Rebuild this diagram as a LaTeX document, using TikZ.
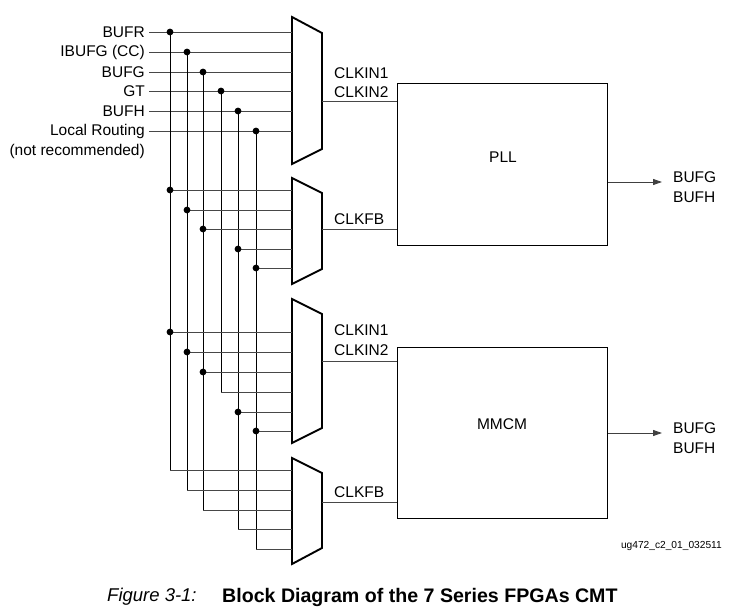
\documentclass[tikz,border=0pt]{standalone}
\usepackage{fontspec}
\setmainfont{Liberation Sans}
\usetikzlibrary{arrows.meta}
\begin{document}
\begin{tikzpicture}[x=1pt,y=-1pt,
  vline/.style={line width=1pt, black},
  hline/.style={line width=0.95pt, black!72},
  muxshape/.style={draw, line width=1.9pt, black, line join=miter},
  blockbox/.style={draw, line width=1.3pt, black, anchor=north west, inner sep=0pt},
  lbl/.style={font=\fontsize{15.5}{18}\selectfont, inner sep=0pt},
  sig/.style={lbl, anchor=west},
  src/.style={lbl, anchor=east},
  jdot/.style={circle, fill=black, inner sep=0pt, minimum size=6.8pt},
  outarrow/.style={line width=0.9pt, black!75, -{Triangle[length=9pt,width=6pt]}}]

\useasboundingbox (0,0) rectangle (729,616);

% ---------- source labels ----------
\node[src] (sBUFR)  at (145,32)  {BUFR};
\node[src] (sIBUFG) at (145,52)  {IBUFG (CC)};
\node[src] (sBUFG)  at (145,72)  {BUFG};
\node[src] (sGT)    at (145,91)  {GT};
\node[src] (sBUFH)  at (145,111) {BUFH};
\node[src] (sLOC)   at (145,131) {Local Routing};
\node[src] (sNOT)   at (145,151) {(not recommended)};

% ---------- muxes ----------
\draw[muxshape] (292,17)  coordinate (m1a) -- (322,33)  -- (322,149) -- (292,164) -- cycle;
\draw[muxshape] (292,178) coordinate (m2a) -- (322,193) -- (322,269) -- (292,284) -- cycle;
\draw[muxshape] (292,299) coordinate (m3a) -- (322,314) -- (322,428) -- (292,443) -- cycle;
\draw[muxshape] (292,458) coordinate (m4a) -- (322,473) -- (322,548) -- (292,564) -- cycle;

% ---------- blocks ----------
\node[blockbox, minimum width=210pt, minimum height=162pt] (pll)  at (397,83)  {};
\node[blockbox, minimum width=210pt, minimum height=171pt] (mmcm) at (397,347) {};
\node[lbl] (pllt)  at (503,157) {PLL};
\node[lbl] (mmcmt) at (502,424) {MMCM};

% ---------- top mux inputs from sources ----------
\foreach \s/\y in {sBUFR/32, sIBUFG/52, sBUFG/72, sGT/91, sBUFH/111, sLOC/131}{
  \draw[hline] ([xshift=4pt]\s.east) -- (292,\y);
}

% ---------- vertical distribution lines ----------
\draw[vline] (170,32)  coordinate (v1t) -- (170,470) coordinate (v1b);
\draw[vline] (187,52)  coordinate (v2t) -- (187,490) coordinate (v2b);
\draw[vline] (203,72)  coordinate (v3t) -- (203,510) coordinate (v3b);
\draw[vline] (221,91)  coordinate (v4t) -- (221,392) coordinate (v4b);
\draw[vline] (238,111) coordinate (v5t) -- (238,529) coordinate (v5b);
\draw[vline] (256,131) coordinate (v6t) -- (256,549) coordinate (v6b);

% ---------- mux 2 (PLL CLKFB) inputs ----------
\foreach \x/\y in {170/190, 187/210, 203/229, 238/249, 256/268}{
  \draw[hline] (\x,\y) -- (292,\y);
}
% ---------- mux 3 (MMCM CLKIN) inputs ----------
\foreach \x/\y in {170/332, 187/352, 203/372, 221/392, 238/412, 256/431}{
  \draw[hline] (\x,\y) -- (292,\y);
}
% ---------- mux 4 (MMCM CLKFB) inputs ----------
\foreach \x/\y in {170/470, 187/490, 203/510, 238/529, 256/549}{
  \draw[hline] (\x,\y) -- (292,\y);
}

% ---------- junction dots ----------
\foreach \x/\y [count=\i] in {170/32, 187/52, 203/72, 221/91, 238/111, 256/131,
                              170/190, 187/210, 203/229, 238/249, 256/268,
                              170/332, 187/352, 203/372, 238/412, 256/431}{
  \node[jdot] (j\i) at (\x,\y) {};
}

% ---------- mux outputs into blocks ----------
\coordinate (o1) at (322,101);
\coordinate (o2) at (322,229);
\coordinate (o3) at (322,361);
\coordinate (o4) at (322,502);
\draw[hline] (o1) -- (o1 -| pll.west);
\draw[hline] (o2) -- (o2 -| pll.west);
\draw[hline] (o3) -- (o3 -| mmcm.west);
\draw[hline] (o4) -- (o4 -| mmcm.west);

\node[sig] (cin1a) at (334,73)  {CLKIN1};
\node[sig] (cin2a) at (334,92)  {CLKIN2};
\node[sig] (cfba)  at (334,219) {CLKFB};
\node[sig] (cin1b) at (334,330) {CLKIN1};
\node[sig] (cin2b) at (334,350) {CLKIN2};
\node[sig] (cfbb)  at (334,492) {CLKFB};

% ---------- block outputs ----------
\coordinate (pa) at (662,182);
\coordinate (ma) at (662,433);
\draw[outarrow] (pa -| pll.east) -- (pa);
\draw[outarrow] (ma -| mmcm.east) -- (ma);
\node[sig] (po1) at (673,177) {BUFG};
\node[sig] (po2) at (673,197) {BUFH};
\node[sig] (mo1) at (673,428) {BUFG};
\node[sig] (mo2) at (673,448) {BUFH};

% ---------- figure id and caption ----------
\node[font=\fontsize{10.2}{12}\selectfont, anchor=east, inner sep=0pt] (fid) at (722,546) {ug472\_c2\_01\_032511};
\node[font=\fontsize{18.5}{21}\selectfont\itshape, anchor=west, inner sep=0pt] (capa) at (107,597) {Figure 3-1:};
\node[font=\fontsize{19.6}{22}\selectfont\bfseries, anchor=west, inner sep=0pt] (capb) at (222,597) {Block Diagram of the 7 Series FPGAs CMT};
\end{tikzpicture}
\end{document}
